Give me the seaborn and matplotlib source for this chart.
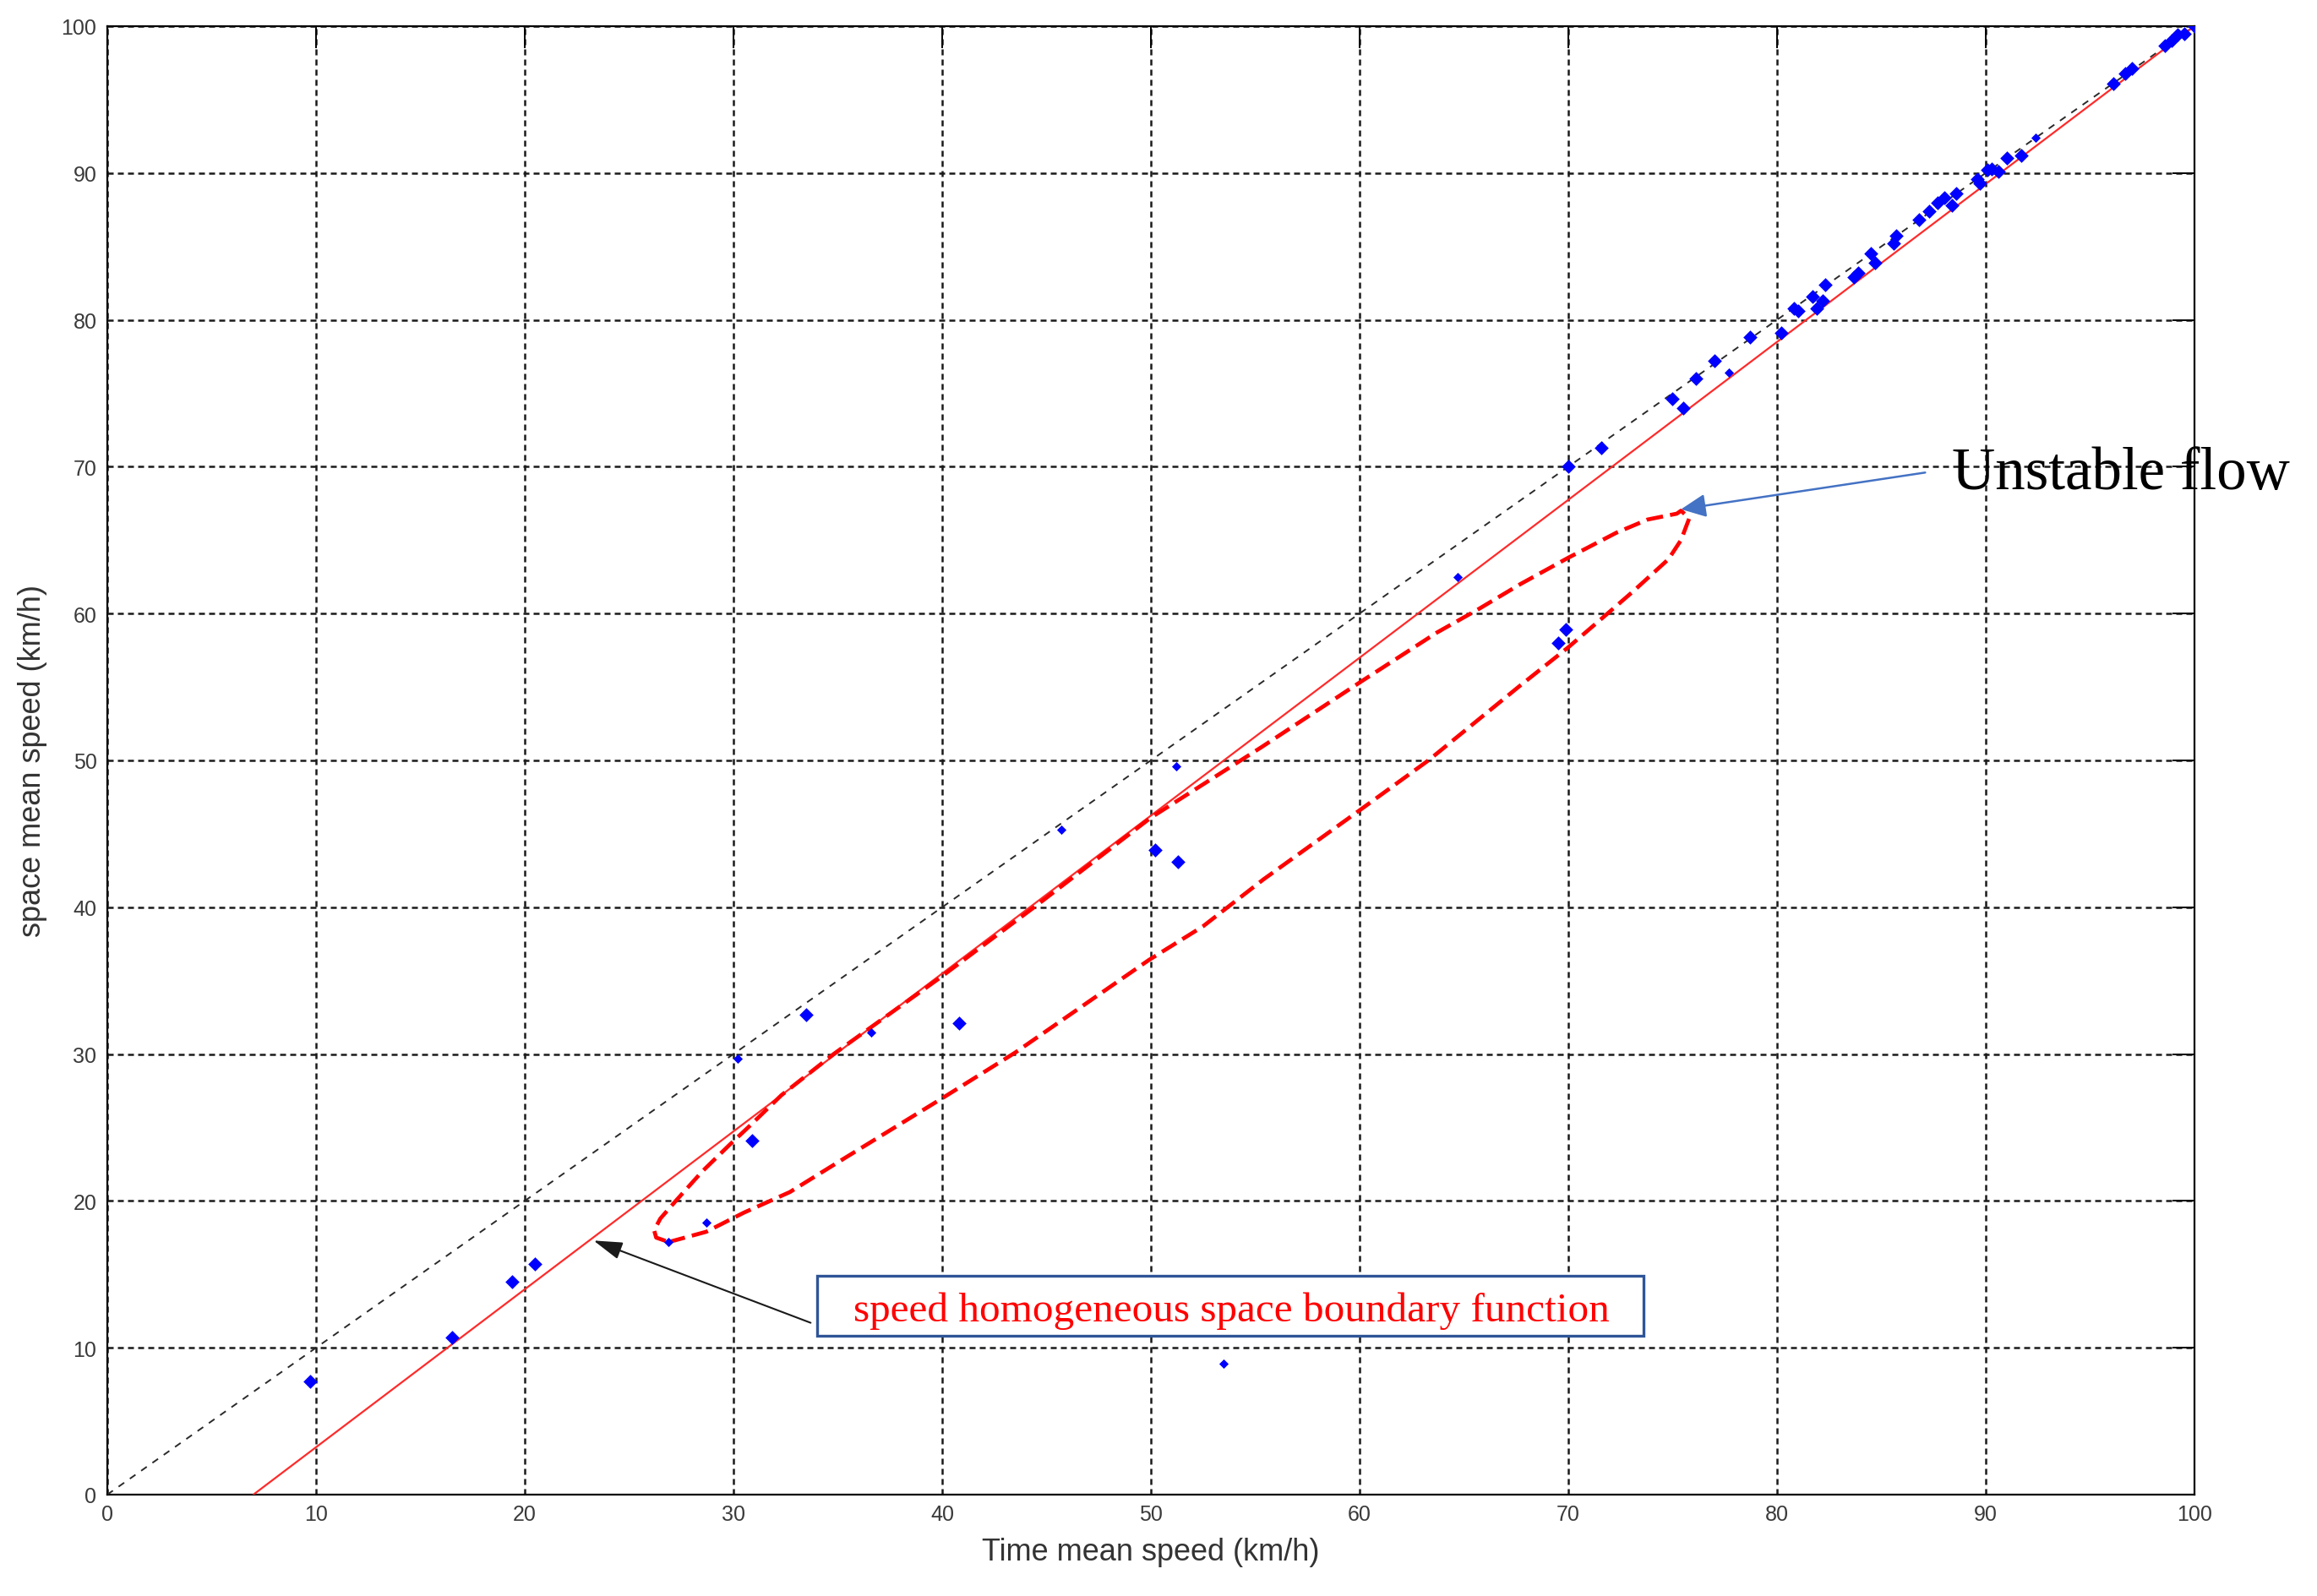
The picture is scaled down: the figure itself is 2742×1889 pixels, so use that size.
import numpy as np
import matplotlib
matplotlib.use("Agg")
import matplotlib.pyplot as plt
import seaborn as sns
from matplotlib.patches import Rectangle

# ---------------- data ----------------
big_x = [9.7, 16.5, 19.4, 20.5, 30.9, 33.5, 40.8, 50.2, 51.3, 69.5, 69.9, 70.0,
         71.6, 75.0, 75.5, 76.1, 77.0, 78.7, 80.2, 80.8, 81.0, 81.7, 82.2, 81.9,
         82.3, 83.7, 83.9, 84.5, 84.7, 85.6, 85.7, 86.8, 87.3, 87.7, 88.0, 88.4,
         88.6, 89.6, 89.7, 90.1, 90.3, 90.6, 91.0, 91.7, 96.1, 96.7, 97.0, 98.6,
         98.9, 99.2, 99.5, 100.0]
big_y = [7.7, 10.7, 14.5, 15.7, 24.1, 32.7, 32.1, 43.9, 43.1, 58.0, 58.9, 70.0,
         71.3, 74.6, 74.0, 76.0, 77.2, 78.8, 79.1, 80.8, 80.6, 81.6, 81.3, 80.8,
         82.4, 82.9, 83.2, 84.5, 83.9, 85.2, 85.7, 86.8, 87.4, 88.0, 88.3, 87.8,
         88.6, 89.6, 89.3, 90.2, 90.3, 90.1, 91.0, 91.2, 96.1, 96.8, 97.1, 98.7,
         99.0, 99.4, 99.5, 100.0]
small_x = [26.9, 28.7, 30.2, 36.6, 45.7, 51.2, 53.5, 64.7, 77.7, 92.4]
small_y = [17.2, 18.5, 29.7, 31.5, 45.3, 49.6, 8.9, 62.5, 76.4, 92.4]

equal_x = [0, 100]
equal_y = [0, 100]
boundary_x = [7.0, 100.0]
boundary_y = [0.0, 100.0]

# hand-drawn "unstable flow" outline (annotation)
region_x = [26.9, 28.7, 30.5, 32.7, 35.2, 39.9, 43.5, 49.9, 52.5, 55.4, 60.1, 63.3,
            67.7, 70.0, 71.8, 73.1, 74.8, 75.4, 75.8, 75.4, 75.2, 73.8, 72.3, 70.0,
            67.7, 65.7, 63.7, 60.0, 55.3, 50.0, 44.5, 39.9, 34.8, 32.3, 30.7, 29.8,
            28.5, 27.3, 26.5, 26.2, 26.3, 26.9]
region_y = [17.2, 17.9, 19.2, 20.6, 22.8, 26.9, 30.1, 36.4, 38.7, 41.9, 46.7, 50.0,
            55.1, 57.7, 59.9, 61.5, 63.7, 65.0, 66.5, 67.0, 66.8, 66.4, 65.5, 63.8,
            62.0, 60.3, 58.7, 55.3, 50.9, 46.1, 40.1, 35.2, 30.0, 27.2, 25.0, 23.8,
            22.0, 20.1, 18.8, 18.0, 17.5, 17.2]

ticks = list(range(0, 101, 10))
xlabel = "Time mean speed (km/h)"
ylabel = "space mean speed (km/h)"
note_unstable = "Unstable flow"
note_boundary = "speed homogeneous space boundary function"

# ---------------- style ----------------
sns.set_theme(style="white")
plt.rcParams["font.family"] = ["Liberation Sans", "DejaVu Sans"]

fig = plt.figure(figsize=(27.42, 18.9), dpi=100)
ax = fig.add_axes([0.0463, 0.0635, 0.9008, 0.9196])
ax.set_facecolor("white")

# grid
ax.set_xlim(0, 100)
ax.set_ylim(0, 100)
ax.set_xticks(ticks)
ax.set_yticks(ticks)
ax.set_xticklabels([str(t) for t in ticks])
ax.set_yticklabels([str(t) for t in ticks])
ax.grid(True, color="#1a1a1a", linestyle=(0, (2.8, 2.0)), linewidth=1.8, zorder=1)
ax.set_axisbelow(True)

for s in ax.spines.values():
    s.set_color("black")
    s.set_linewidth(1.6)
    s.set_visible(True)

ax.tick_params(axis="both", which="major", direction="in", length=19, width=1.4,
               color="black", top=True, right=True, labelsize=18,
               labelcolor="#3a3a3a")
ax.tick_params(axis="x", pad=8)
ax.tick_params(axis="y", pad=9)

# lines
sns.lineplot(x=equal_x, y=equal_y, ax=ax, color="#2a2a2a", linewidth=1.4,
             linestyle=(0, (4.2, 4.2)), zorder=3)
sns.lineplot(x=boundary_x, y=boundary_y, ax=ax, color="#ff2a2a", linewidth=1.6,
             zorder=3)

# scatter points
sns.scatterplot(x=big_x, y=big_y, ax=ax, marker="D", s=72, color="#0000ff",
                linewidth=0, zorder=5)
sns.scatterplot(x=small_x, y=small_y, ax=ax, marker="D", s=32, color="#0000ff",
                linewidth=0, zorder=5)

# unstable flow outline
ax.plot(region_x, region_y, color="#ff0000", linewidth=3.4,
        linestyle=(0, (4.2, 1.8)), zorder=4, solid_capstyle="butt")

# annotations
ax.text(88.4, 68.5, note_unstable, family=["Liberation Serif", "DejaVu Serif"],
        fontsize=51, color="black", ha="left", va="baseline", clip_on=False,
        zorder=6)
ax.annotate("", xy=(75.4, 67.1), xytext=(87.1, 69.6),
            arrowprops=dict(arrowstyle="-|>,head_length=0.9,head_width=0.42",
                            color="#4472c4", lw=1.8, mutation_scale=20,
                            shrinkA=0, shrinkB=0), zorder=6)

box = Rectangle((34.0, 10.83), 39.6, 4.09, facecolor="white",
                edgecolor="#2f5597", linewidth=2.4, zorder=6)
ax.add_patch(box)
ax.text(53.87, 11.85, note_boundary, family=["Liberation Serif", "DejaVu Serif"],
        fontsize=35.5, color="#ff0000", ha="center", va="baseline", zorder=7)
ax.annotate("", xy=(23.3, 17.3), xytext=(33.7, 11.7),
            arrowprops=dict(arrowstyle="-|>,head_length=1.05,head_width=0.32",
                            color="#1a1a1a", lw=1.5, mutation_scale=20,
                            shrinkA=0, shrinkB=0), zorder=6)

# axis labels
ax.set_xlabel(xlabel, fontsize=26, color="#333333")
ax.set_ylabel(ylabel, fontsize=26, color="#333333")
ax.xaxis.set_label_coords(0.5, -0.029)
ax.yaxis.set_label_coords(-0.0287, 0.5)

fig.savefig("out.png", dpi=100, facecolor="white")
